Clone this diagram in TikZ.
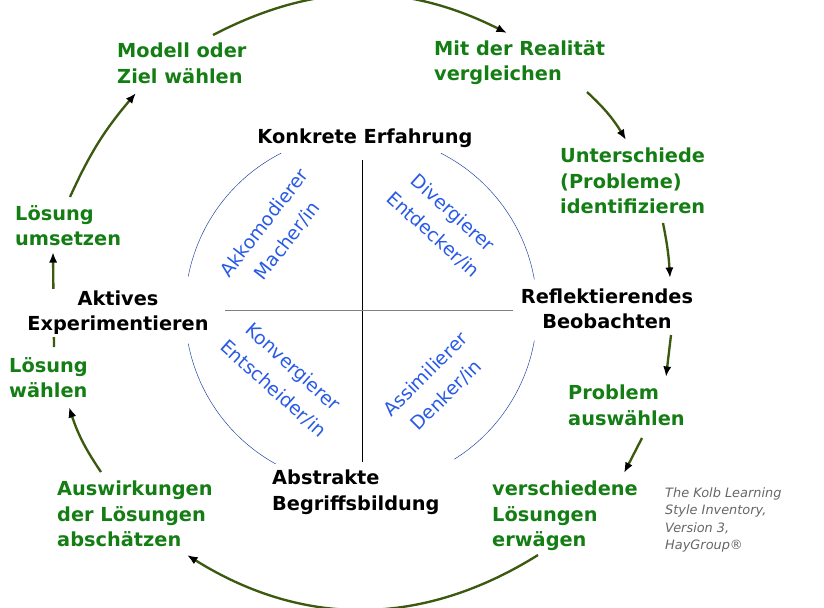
\documentclass[tikz,border=0pt]{standalone}
\usepackage{fontspec}
\setmainfont{DejaVu Sans}
\usetikzlibrary{arrows.meta}
\definecolor{stagegreen}{RGB}{20,125,20}
\definecolor{cycleline}{RGB}{60,90,15}
\definecolor{typeblue}{RGB}{40,90,230}
\tikzset{
    every node/.style={align=left,inner sep=0pt},
    stage/.style={text=stagegreen,font=\bfseries\fontsize{16.5}{21.5}\selectfont,anchor=north west},
    mode/.style={font=\bfseries\fontsize{16.5}{21.5}\selectfont,align=center},
    learner/.style={text=typeblue,font=\fontsize{16}{25}\selectfont,align=center},
    cycle/.style={draw=cycleline,line width=2pt,-{Latex[length=9pt,width=7pt,color=black]}},
    ring/.style={draw=typeblue!70!black,line width=0.4pt},
}
\begin{document}
\begin{tikzpicture}[x=0.03cm,y=-0.03cm]
        \useasboundingbox (0,0) rectangle (824,607);

        % inner circle and cross
        \coordinate (mid) at (361,310);
        \draw[ring] (mid) ++(10:176) arc[start angle=10,end angle=58,radius=176];
        \draw[ring] (mid) ++(119:176) arc[start angle=119,end angle=169,radius=176];
        \draw[ring] (mid) ++(191:176) arc[start angle=191,end angle=243,radius=176];
        \draw[ring] (mid) ++(297:176) arc[start angle=297,end angle=350,radius=176];
        \coordinate (vtop) at (362,160);
        \coordinate (vbot) at (362,462);
        \coordinate (hleft) at (225,310);
        \coordinate (hright) at (513,310);
        \draw[black,line width=0.5pt] (vtop) -- (vbot);
        \draw[gray,line width=0.8pt] (hleft) -- (hright);

        \node[learner,rotate=52] (accom) at (276,232) {Akkomodierer\\Macher/in};
        \node[learner,rotate=-42] (diverg) at (443,224) {Divergierer\\Entdecker/in};
        \node[learner,rotate=-42] (converg) at (283,378) {Konvergierer\\Entscheider/in};
        \node[learner,rotate=45] (assim) at (436,385) {Assimilierer\\Denker/in};

        % cycle connectors
        \coordinate (a1) at (213,35);   \coordinate (b1) at (507,33);
        \coordinate (a2) at (587,92);   \coordinate (b2) at (626,140);
        \coordinate (a3) at (663,223);  \coordinate (b3) at (670,278);
        \coordinate (a4) at (671,335);  \coordinate (b4) at (666,377);
        \coordinate (a5) at (642,438);  \coordinate (b5) at (624,473);
        \coordinate (a6) at (538,555);  \coordinate (b6) at (187,555);
        \coordinate (a7) at (101,472);  \coordinate (b7) at (69,407);
        \coordinate (a8) at (54,347);   \coordinate (b8) at (53,252);
        \coordinate (a9) at (70,197);   \coordinate (b9) at (136,93);

        \draw[cycle] (a1) to[bend left=27] (b1);
        \draw[cycle] (a2) to[bend left=8] (b2);
        \draw[cycle] (a3) to[bend left=4] (b3);
        \draw[cycle] (a4) to (b4);
        \draw[cycle] (a5) to (b5);
        \draw[cycle] (a6) to[bend left=32] (b6);
        \draw[cycle] (a7) to[bend left=8] (b7);
        \draw[cycle] (a8) to (b8);
        \draw[cycle] (a9) to[bend left=8] (b9);

        % learning modes
        \node[mode] (concrete) at (365,138) {Konkrete Erfahrung};
        \node[mode] (reflect) at (607,309) {Reflektierendes\\Beobachten};
        \node[mode,fill=white,inner sep=2pt] (active) at (118,313) {Aktives\\Experimentieren};
        \node[mode,align=left,anchor=north west] (abstract) at (272,470) {Abstrakte\\Begriffsbildung};

        % stages
        \node[stage] (model) at (117,43) {Modell oder\\Ziel wählen};
        \node[stage] (compare) at (434,40) {Mit der Realität\\vergleichen};
        \node[stage] (differ) at (560,148) {Unterschiede\\(Probleme)\\identifizieren};
        \node[stage] (problem) at (568,385) {Problem\\auswählen};
        \node[stage] (options) at (492,481) {verschiedene\\Lösungen\\erwägen};
        \node[stage] (effects) at (57,481) {Auswirkungen\\der Lösungen\\abschätzen};
        \node[stage] (choose) at (9,357) {Lösung\\wählen};
        \node[stage] (apply) at (15,205) {Lösung\\umsetzen};

        \node[anchor=north west,text=gray!80!black,font=\itshape\fontsize{11}{15}\selectfont] (source) at (665,487) {The Kolb Learning\\Style Inventory,\\Version 3,\\HayGroup®};
    \end{tikzpicture}
\end{document}
